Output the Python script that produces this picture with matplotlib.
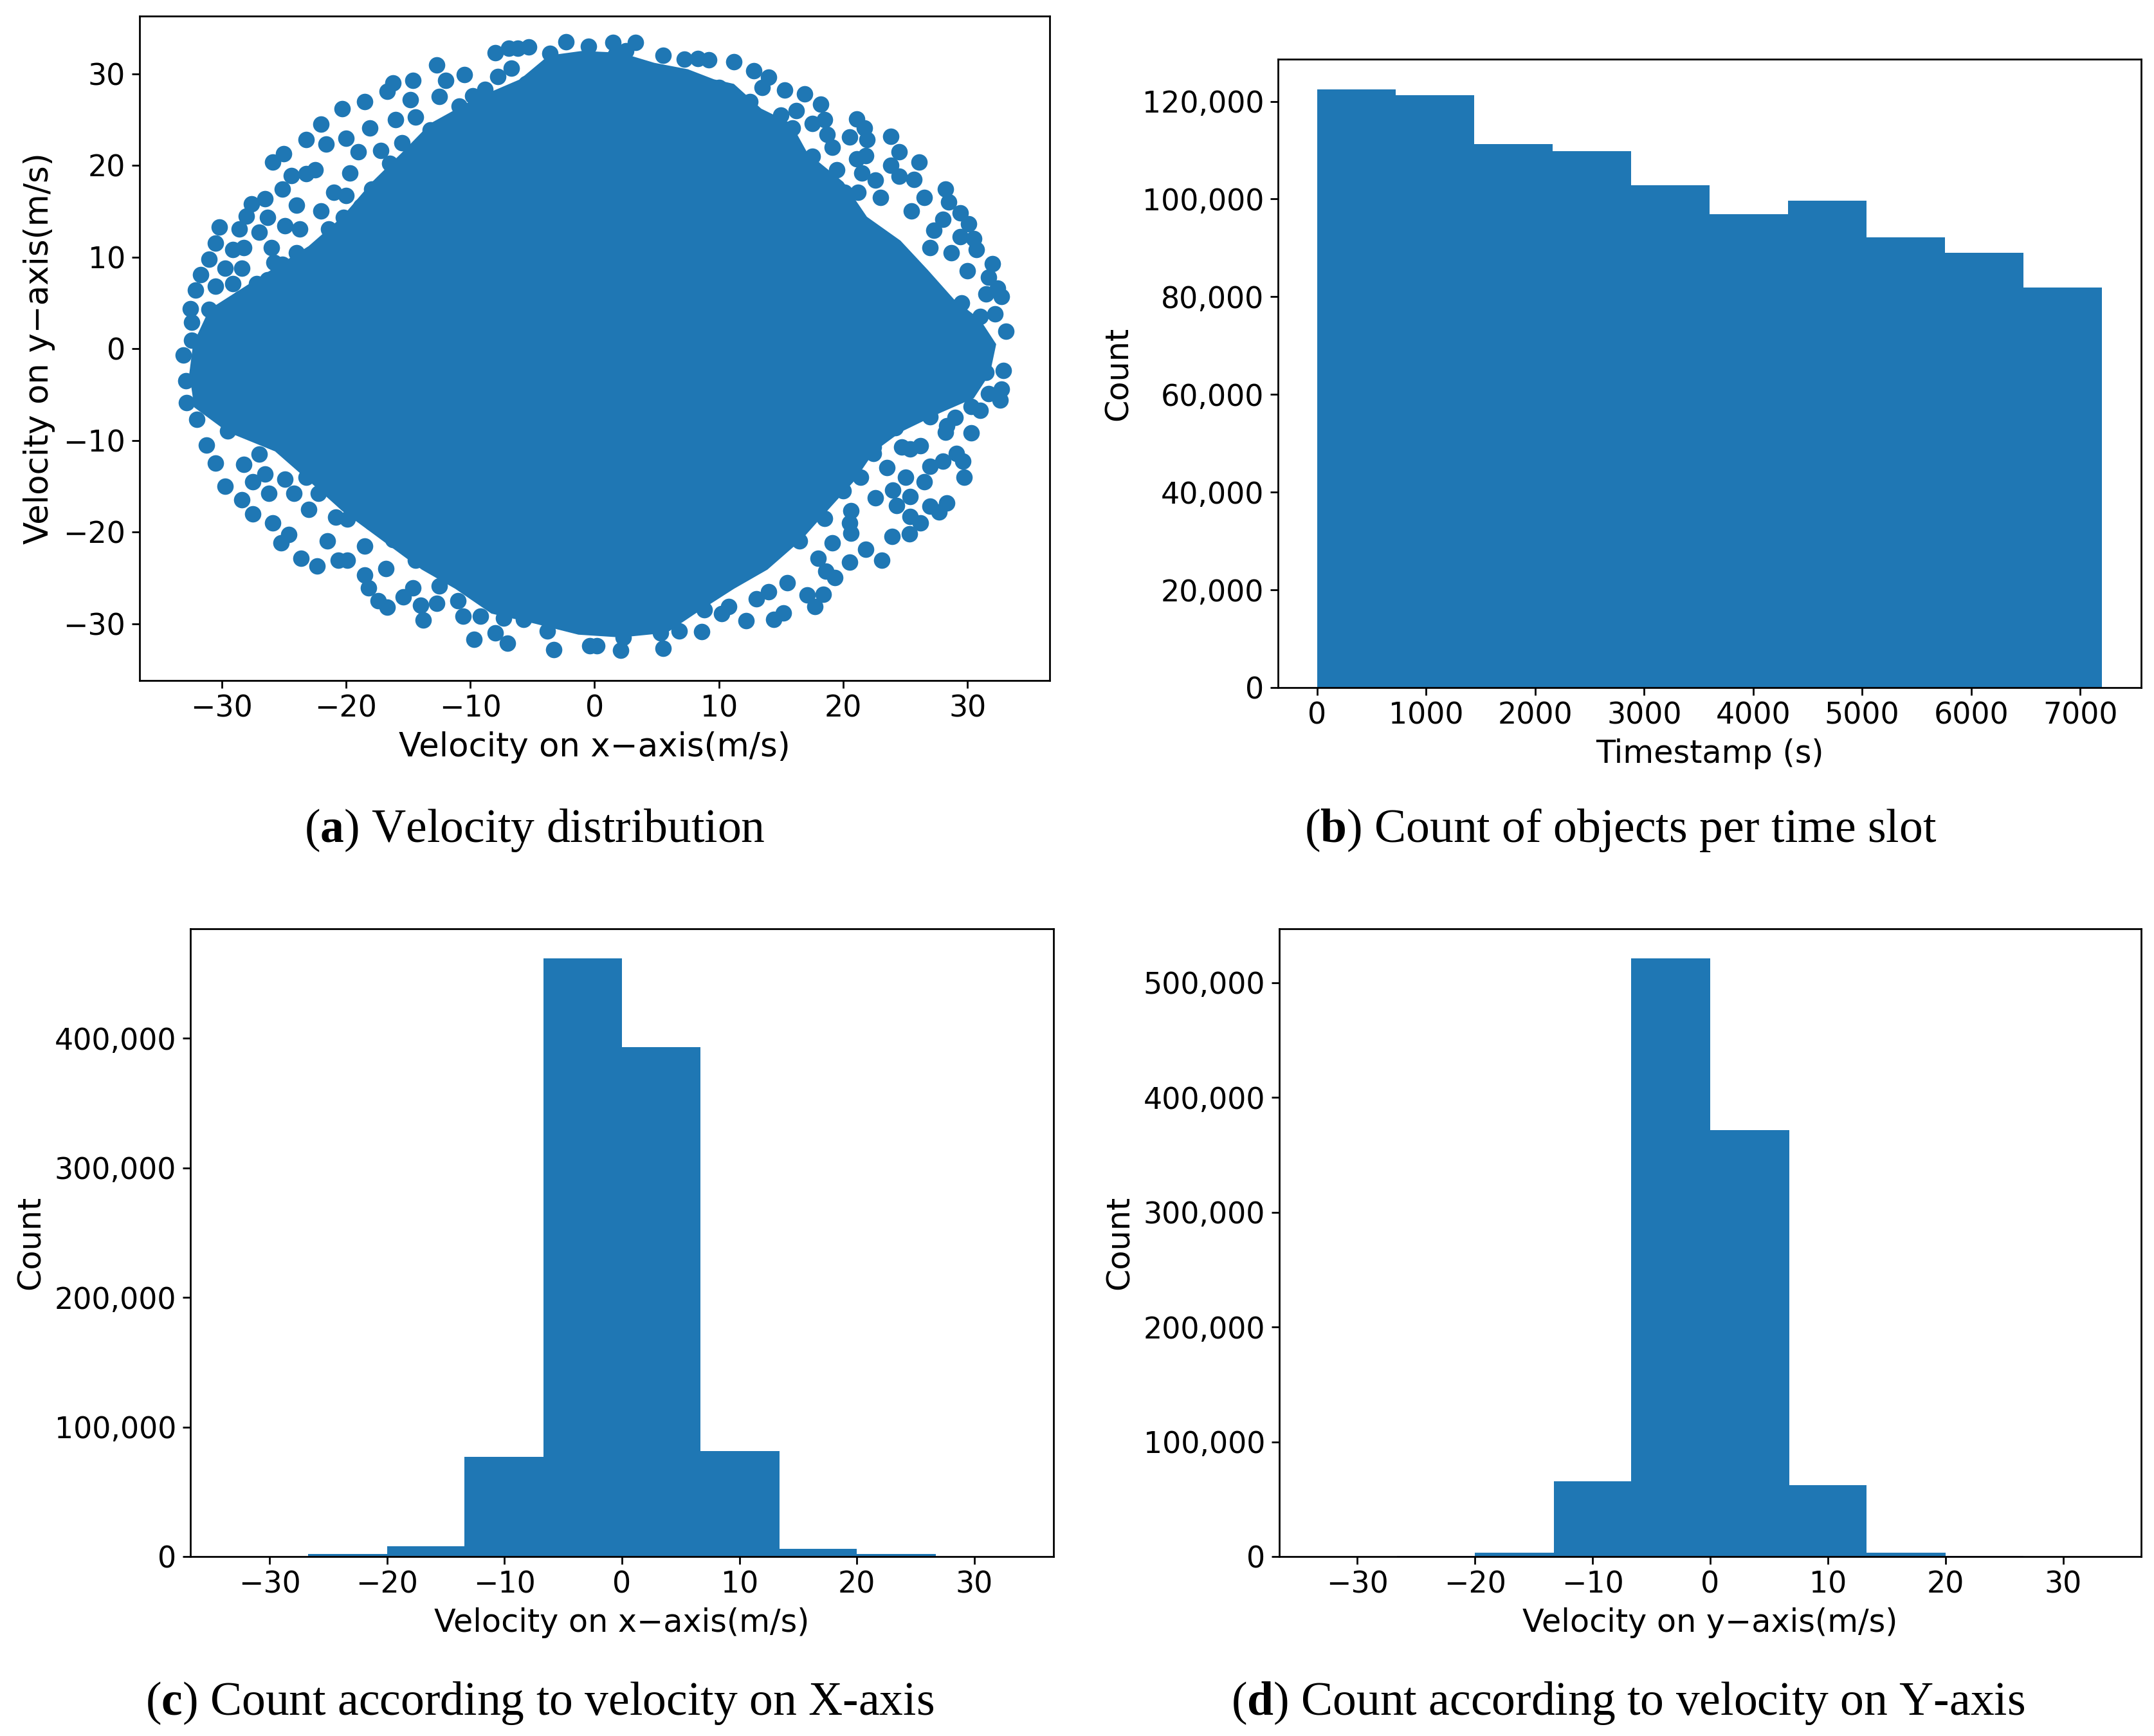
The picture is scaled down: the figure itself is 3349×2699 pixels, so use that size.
import numpy as np
import matplotlib
matplotlib.use('Agg')
import matplotlib.pyplot as plt
from matplotlib.ticker import StrMethodFormatter

plt.rcParams['font.family'] = ['DejaVu Sans']
plt.rcParams['font.size'] = 33
plt.rcParams['axes.linewidth'] = 2
plt.rcParams['xtick.major.size'] = 8.8
plt.rcParams['ytick.major.size'] = 8.8
plt.rcParams['xtick.major.width'] = 2
plt.rcParams['ytick.major.width'] = 2
plt.rcParams['xtick.major.pad'] = 7
plt.rcParams['ytick.major.pad'] = 7
plt.rcParams['axes.labelpad'] = 9
plt.rcParams['mathtext.fontset'] = 'custom'
plt.rcParams['mathtext.rm'] = 'Liberation Serif'
plt.rcParams['mathtext.bf'] = 'Liberation Serif:bold'

blue = '#1f77b4'

# (a) velocity scatter: outline of the solid central mass + the looser outer points (m/s)
core_x = [-6.0, -3.7, -1.0, 2.1, 4.8, 7.5, 9.6, 11.2, 13.4, 15.8, 17.1, 20.0, 21.9, 24.6,
          26.8, 28.9, 31.0, 32.3, 31.8, 30.5, 27.8, 24.6, 22.5, 20.9, 18.7, 16.6, 13.9,
          11.2, 8.1, 5.8, 2.1, -1.3, -4.8, -8.3, -11.2, -13.9, -17.1, -20.3, -23.0, -25.7,
          -29.5, -32.2, -32.6, -32.3, -31.0, -27.3, -23.0, -20.3, -17.9, -15.5, -13.2, -9.6]
core_y = [29.4, 32.0, 32.5, 32.3, 31.2, 30.5, 29.4, 28.9, 26.2, 24.6, 21.4, 18.2, 14.4, 11.8,
          8.6, 5.4, 3.2, 0.5, -2.7, -5.4, -7.0, -9.1, -11.2, -14.4, -17.7, -20.9, -24.1,
          -26.2, -28.9, -31.0, -31.5, -31.2, -30.0, -28.9, -26.2, -24.1, -20.9, -17.7, -14.4,
          -11.2, -9.1, -6.4, -2.7, 0.5, 4.3, 7.5, 11.2, 14.4, 18.2, 21.4, 24.6, 27.3]

upper_left = [(-2.3, 33.5), (-3.6, 32.2), (-8.0, 32.3), (-6.9, 32.8), (-6.2, 32.8), (-5.3, 32.9),
              (-12.7, 31.0), (-12.0, 29.3), (-10.5, 29.9), (-16.2, 29.0), (-14.6, 29.3), (-16.7, 28.1),
              (-20.3, 26.2), (-9.8, 27.6), (-8.8, 28.3), (-7.8, 29.7), (-6.7, 30.6), (-5.5, 28.9),
              (-4.2, 29.3), (-18.1, 24.1), (-20.0, 23.0), (-23.2, 22.8), (-21.6, 22.3), (-17.2, 21.6),
              (-25.0, 21.3), (-25.9, 20.4), (-24.4, 18.9), (-23.2, 19.1), (-19.7, 19.2), (-21.0, 17.1),
              (-20.0, 16.7), (-25.1, 17.4), (-27.6, 15.8), (-26.5, 16.4), (-24.0, 15.7), (-30.2, 13.3),
              (-28.6, 13.1), (-27.0, 12.7), (-26.3, 14.3), (-24.9, 13.4), (-23.7, 13.1), (-29.1, 10.8),
              (-28.2, 11.0), (-31.0, 9.8), (-29.7, 8.8), (-28.4, 8.8), (-31.7, 8.1), (-25.8, 9.4),
              (-25.1, 9.2), (-32.1, 6.4), (-30.5, 6.8), (-29.1, 7.1), (-27.2, 7.1), (-26.3, 7.5),
              (-24.9, 7.5), (-23.2, 8.7), (-23.2, 6.8), (-32.5, 4.4), (-32.4, 2.9), (-31.0, 4.3),
              (-29.8, 3.8), (-27.2, 3.3), (-32.4, 0.9), (-21.4, 13.1), (-20.2, 14.3), (-18.8, 15.5),
              (-17.9, 17.4), (-16.5, 20.2), (-14.8, 27.2), (-14.4, 25.3), (-13.2, 23.9), (-10.9, 26.5),
              (-7.4, 27.2), (-6.2, 25.3), (-10.0, 23.0), (-8.0, 22.5), (-12.0, 21.5), (-5.0, 23.5),
              (-3.5, 25.5), (-15.5, 22.5), (-18.5, 12.5), (-22.5, 10.5), (-19.5, 11.0), (-27.5, 5.0),
              (-25.0, 5.0), (-30.0, 1.8), (-1.0, 31.5), (1.0, 30.5), (-0.5, 33.0), (2.5, 32.5),
              (-28.5, 5.5), (-26.0, 11.0), (-24.0, 10.5), (-22.0, 15.0), (-22.5, 19.5), (-19.0, 21.5),
              (-16.0, 25.0), (-12.5, 27.5), (-28.0, 14.5), (-30.5, 11.5), (-22.0, 24.5), (-18.5, 27.0)]

upper_right = [(1.5, 33.4), (3.3, 33.4), (1.7, 32.1), (5.5, 32.0), (7.2, 31.6), (8.3, 31.7),
               (9.2, 31.5), (11.2, 31.3), (12.8, 30.3), (14.0, 29.6), (15.3, 28.2), (16.9, 27.8),
               (18.2, 26.7), (16.2, 26.0), (15.9, 24.1), (17.5, 24.6), (18.7, 23.4), (19.1, 22.0),
               (21.1, 25.1), (21.7, 24.1), (20.5, 23.1), (21.9, 22.8), (23.8, 23.2), (21.1, 20.7),
               (21.8, 21.1), (21.5, 19.2), (23.8, 20.0), (26.1, 20.4), (22.6, 18.4), (24.5, 18.8),
               (25.7, 18.5), (28.2, 17.4), (28.5, 16.0), (29.4, 14.8), (30.1, 13.6), (28.0, 14.1),
               (27.3, 12.9), (29.4, 12.2), (28.7, 10.5), (30.7, 10.8), (32.0, 9.3), (31.7, 7.8),
               (32.4, 6.6), (32.7, 5.7), (33.1, 1.9), (32.2, 3.8), (21.2, 17.1), (20.1, 17.1),
               (6.5, 29.0), (10.0, 28.5), (12.5, 27.0), (15.0, 25.5), (17.5, 21.0), (19.5, 19.5),
               (23.0, 16.5), (25.5, 15.0), (27.0, 11.0), (30.0, 8.5), (29.5, 5.0), (31.0, 3.5),
               (13.5, 28.5), (18.5, 25.0), (24.5, 21.5), (26.5, 16.5), (30.5, 12.0), (31.5, 6.0)]

lower_left = [(-33.1, -0.7), (-32.9, -3.5), (-32.8, -5.9), (-32.0, -7.7), (-31.2, -10.5),
              (-29.7, -15.0), (-28.4, -16.5), (-28.2, -12.6), (-26.5, -13.7), (-26.2, -15.8),
              (-24.9, -14.2), (-24.2, -15.8), (-23.2, -14.0), (-22.2, -15.8), (-20.9, -15.6),
              (-25.9, -19.0), (-24.6, -20.3), (-25.2, -21.2), (-23.6, -22.9), (-22.3, -23.7),
              (-20.6, -23.1), (-19.9, -23.1), (-20.8, -18.4), (-19.9, -18.6), (-18.7, -16.3),
              (-17.9, -18.9), (-18.5, -24.7), (-18.2, -26.1), (-17.4, -27.5), (-16.7, -28.2),
              (-16.8, -24.0), (-15.4, -27.1), (-14.6, -26.1), (-13.8, -29.6), (-12.7, -27.8),
              (-12.5, -25.9), (-11.6, -24.7), (-10.6, -29.2), (-9.7, -31.7), (-9.2, -29.2),
              (-8.0, -31.0), (-7.0, -32.1), (-7.3, -29.4), (-5.7, -29.5), (-3.9, -28.5),
              (-3.8, -30.8), (-3.3, -32.8), (-2.2, -27.8), (-0.8, -29.6), (-0.4, -32.4),
              (-6.4, -27.1), (-8.5, -25.4), (-5.3, -25.4), (-14.4, -23.1), (-16.2, -20.8),
              (-29.5, -9.0), (-27.0, -11.5), (-24.0, -12.0), (-20.5, -12.5), (-18.0, -14.5),
              (-17.0, -17.0), (-15.0, -19.5), (-12.0, -23.5), (-9.5, -25.5), (-7.0, -24.5),
              (-4.0, -26.5), (-1.5, -27.0), (-30.5, -12.5), (-27.5, -14.5), (-23.0, -17.5),
              (-21.5, -21.0), (-18.5, -21.5), (-14.0, -28.0), (-11.0, -27.5), (-27.5, -18.0)]

lower_right = [(2.1, -32.9), (2.3, -31.5), (5.5, -32.7), (5.3, -31.0), (0.2, -32.4), (6.8, -30.8),
               (8.6, -30.9), (7.0, -28.2), (8.8, -28.5), (10.2, -28.9), (10.8, -28.1), (12.2, -29.7),
               (14.4, -29.5), (15.2, -28.8), (17.7, -28.1), (17.1, -26.9), (18.4, -26.8), (19.3, -25.0),
               (23.1, -23.1), (21.8, -21.9), (20.5, -23.3), (20.6, -20.1), (19.1, -21.2), (23.9, -20.5),
               (25.3, -20.2), (26.2, -19.0), (25.4, -18.3), (27.7, -17.8), (28.3, -16.8), (27.0, -17.2),
               (24.3, -17.1), (25.4, -16.1), (24.0, -15.4), (22.6, -16.3), (20.6, -17.7), (21.4, -14.0),
               (29.7, -14.0), (29.6, -12.3), (29.1, -11.4), (27.0, -12.8), (28.0, -12.3), (30.3, -9.2),
               (28.2, -9.1), (28.3, -8.4), (25.4, -10.9), (26.2, -10.6), (24.7, -10.7), (25.0, -14.0),
               (22.4, -11.4), (20.5, -11.2), (27.0, -6.0), (27.0, -7.4), (30.3, -6.3), (31.0, -6.7),
               (32.6, -5.6), (32.7, -4.4), (31.7, -4.9), (32.9, -2.4), (31.5, -2.6), (29.6, -3.7),
               (27.3, -3.9), (24.2, -8.6), (26.3, -6.7), (21.8, -6.7), (22.4, -10.7), (18.0, -22.9),
               (18.6, -24.3), (13.0, -27.3), (2.5, -29.5), (4.5, -28.0), (8.5, -25.0), (11.0, -24.5),
               (13.0, -23.0), (16.5, -21.0), (18.5, -18.5), (20.0, -15.5), (21.5, -9.0), (23.5, -6.0),
               (27.5, -2.0), (15.5, -25.5), (20.5, -19.0), (23.5, -13.0), (26.5, -14.5), (29.0, -7.5),
               (14.0, -26.5)]

# (b) objects per time slot
time_edges = [0, 720, 1440, 2160, 2880, 3600, 4320, 5040, 5760, 6480, 7200]
time_counts = [122500, 121200, 111300, 109800, 102800, 96900, 99600, 92200, 89000, 81900]

# (c) counts by x velocity
vx_edges = [-33.4, -26.7, -20.0, -13.4, -6.7, 0.0, 6.7, 13.4, 20.0, 26.7, 33.4]
vx_counts = [100, 1800, 7700, 77100, 461500, 393000, 81600, 6200, 1800, 100]

# (d) counts by y velocity
vy_edges = [-33.3, -26.6, -20.0, -13.3, -6.7, 0.0, 6.7, 13.3, 20.0, 26.6, 33.3]
vy_counts = [100, 300, 3200, 65700, 520800, 371400, 62000, 3200, 300, 100]

W, H = 3349, 2699
fig = plt.figure(figsize=(W / 100, H / 100), dpi=100)


def axes_px(left, right, top, bottom):
    return fig.add_axes([left / W, 1 - bottom / H, (right - left) / W, (bottom - top) / H])


ax_a = axes_px(217, 1632, 25, 1058)
ax_b = axes_px(1987, 3329, 92, 1069)
ax_c = axes_px(296, 1638, 1444, 2420)
ax_d = axes_px(1989, 3329, 1444, 2420)

# (a)
ring = upper_left + upper_right + lower_left + lower_right
ax_a.fill(core_x, core_y, color=blue, lw=0)
ax_a.scatter([p[0] for p in ring], [p[1] for p in ring], s=340, color=blue, linewidths=0)
ax_a.set_xlim(-36.6, 36.6)
ax_a.set_ylim(-36.2, 36.3)
ax_a.set_xticks([-30, -20, -10, 0, 10, 20, 30])
ax_a.set_yticks([-30, -20, -10, 0, 10, 20, 30])
ax_a.set_xlabel('Velocity on x\u2212axis(m/s)', fontsize=37)
ax_a.set_ylabel('Velocity on y\u2212axis(m/s)', fontsize=37)

# (b)
ax_b.hist(time_edges[:-1], bins=time_edges, weights=time_counts, color=blue)
ax_b.set_xlabel('Timestamp (s)', fontsize=35.5)
ax_b.set_ylabel('Count', fontsize=35.5)

# (c)
ax_c.hist(vx_edges[:-1], bins=vx_edges, weights=vx_counts, color=blue)
ax_c.set_xlabel('Velocity on x\u2212axis(m/s)', fontsize=35.5)
ax_c.set_ylabel('Count', fontsize=35.5)

# (d)
ax_d.hist(vy_edges[:-1], bins=vy_edges, weights=vy_counts, color=blue)
ax_d.set_xlabel('Velocity on y\u2212axis(m/s)', fontsize=35.5)
ax_d.set_ylabel('Count', fontsize=35.5)

for ax in (ax_b, ax_c, ax_d):
    ax.yaxis.set_major_formatter(StrMethodFormatter('{x:,.0f}'))

for ax in (ax_c, ax_d):
    ax.set_xticks([-30, -20, -10, 0, 10, 20, 30])

cap = dict(ha='center', va='baseline', fontsize=53, family='Liberation Serif')
fig.text(831 / W, 1 - 1309 / H, r'($\mathbf{a}$) Velocity distribution', **cap)
fig.text(2520 / W, 1 - 1309 / H, r'($\mathbf{b}$) Count of objects per time slot', **cap)
fig.text(839 / W, 1 - 2666 / H, r'($\mathbf{c}$) Count according to velocity on X-axis', **cap)
fig.text(2531 / W, 1 - 2666 / H, r'($\mathbf{d}$) Count according to velocity on Y-axis', **cap)

fig.savefig('out.png', dpi=100)
